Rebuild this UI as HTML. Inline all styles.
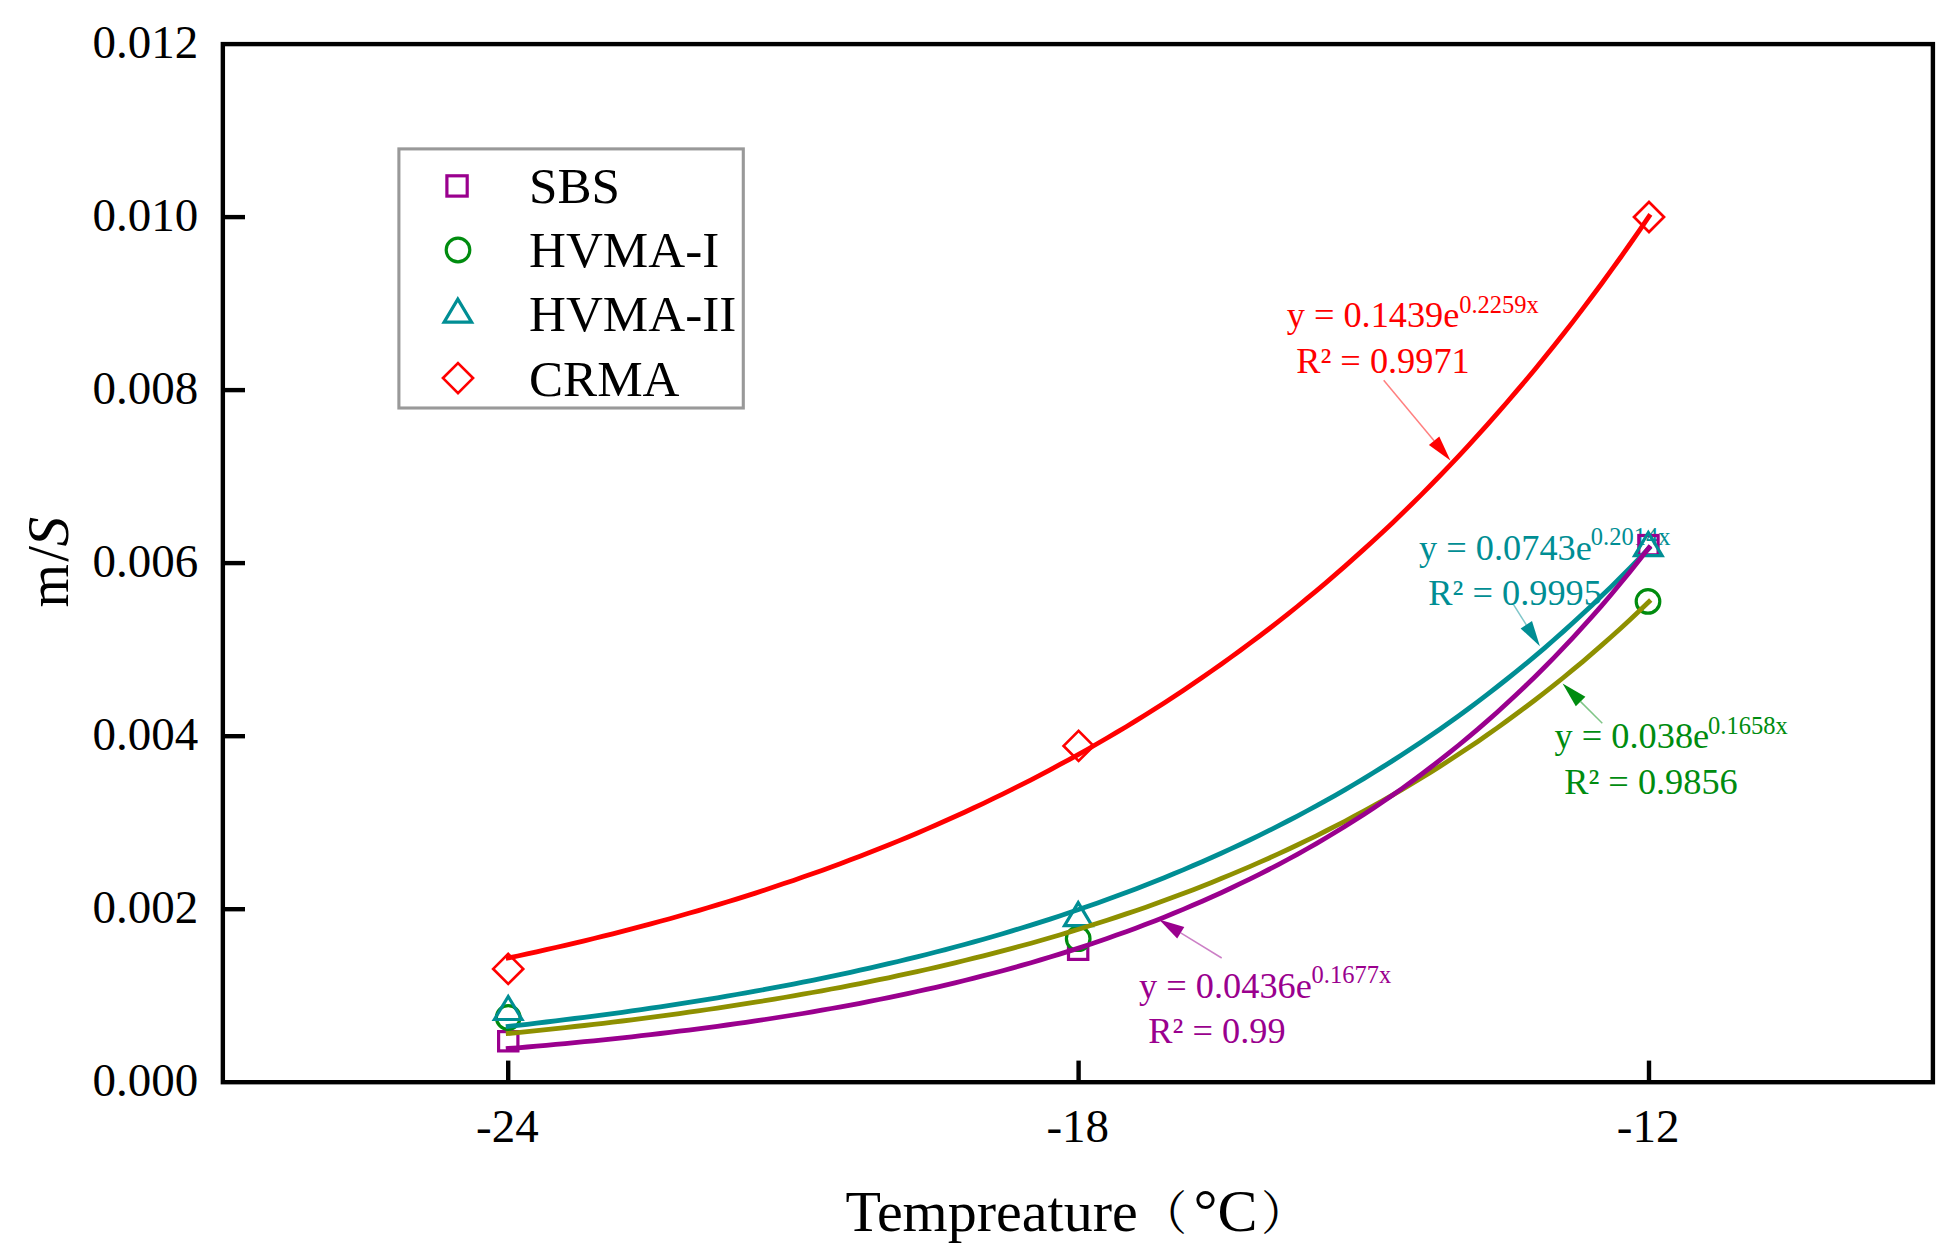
<!DOCTYPE html>
<html lang="en"><head><meta charset="utf-8"><title>m/S vs Temperature</title>
<style>html,body{margin:0;padding:0;background:#fff}body{width:1959px;height:1258px;overflow:hidden}svg{display:block}text{font-family:"Liberation Serif", "Noto Serif CJK SC", serif}</style>
</head><body>
<svg width="1959" height="1258" viewBox="0 0 1959 1258">
<rect x="0" y="0" width="1959" height="1258" fill="#fff"/>
<g fill="#FF0000">
<text x="1286.7" y="326.9" font-size="36.3">y = 0.1439e</text>
<text x="1459.2" y="312.6" font-size="24.5">0.2259x</text>
<text x="1296.2" y="372.7" font-size="36.3">R² = 0.9971</text>
<line x1="1383.7" y1="380.2" x2="1434.1" y2="440.8" stroke="#FF0000" stroke-width="1.5" stroke-opacity="0.5"/>
<polygon points="1450.4,460.4 1428.9,445.1 1439.3,436.5"/>
</g>
<g fill="#008E94">
<text x="1419.1" y="559.6" font-size="36.3">y = 0.0743e</text>
<text x="1590.8" y="545.0" font-size="24.5">0.2014x</text>
<text x="1428.3" y="605.4" font-size="36.3">R² = 0.9995</text>
<line x1="1513.7" y1="604.9" x2="1526.3" y2="624.8" stroke="#008E94" stroke-width="1.5" stroke-opacity="0.5"/>
<polygon points="1539.9,646.3 1520.6,628.4 1532.0,621.1"/>
</g>
<g fill="#008C0F">
<text x="1554.6" y="747.9" font-size="36.3">y = 0.038e</text>
<text x="1708.0" y="733.6" font-size="24.5">0.1658x</text>
<text x="1564.2" y="793.5" font-size="36.3">R² = 0.9856</text>
<line x1="1602.3" y1="723.3" x2="1580.6" y2="701.6" stroke="#008C0F" stroke-width="1.5" stroke-opacity="0.5"/>
<polygon points="1562.6,683.5 1585.4,696.8 1575.8,706.3"/>
</g>
<g fill="#9A008E">
<text x="1139.1" y="997.8" font-size="36.3">y = 0.0436e</text>
<text x="1311.6" y="982.7" font-size="24.5">0.1677x</text>
<text x="1148.3" y="1043.4" font-size="36.3">R² = 0.99</text>
<line x1="1221.7" y1="958.0" x2="1180.7" y2="932.8" stroke="#9A008E" stroke-width="1.5" stroke-opacity="0.5"/>
<polygon points="1159.0,919.4 1184.3,927.0 1177.2,938.5"/>
</g>
<rect x="498.6" y="1031.6" width="19.3" height="19.3" fill="none" stroke="#9A008E" stroke-width="3.2"/>
<rect x="1068.5" y="940.1" width="19.3" height="19.3" fill="none" stroke="#9A008E" stroke-width="3.2"/>
<rect x="1638.8" y="535.5" width="19.3" height="19.3" fill="none" stroke="#9A008E" stroke-width="3.2"/>
<circle cx="508.2" cy="1017.5" r="11.8" fill="#fff" stroke="#008C0F" stroke-width="3.2"/>
<circle cx="1078.2" cy="938.7" r="11.8" fill="#fff" stroke="#008C0F" stroke-width="3.2"/>
<circle cx="1648.0" cy="601.4" r="11.8" fill="#fff" stroke="#008C0F" stroke-width="3.2"/>
<polygon points="508.2,996.5 522.0,1019.5 494.4,1019.5" fill="none" stroke="#008E94" stroke-width="3.2" stroke-linejoin="miter"/>
<polygon points="1078.2,902.6 1092.0,925.6 1064.5,925.6" fill="none" stroke="#008E94" stroke-width="3.2" stroke-linejoin="miter"/>
<polygon points="1648.3,532.6 1662.1,555.6 1634.6,555.6" fill="none" stroke="#008E94" stroke-width="3.2" stroke-linejoin="miter"/>
<polygon points="508.2,953.9 523.2,968.9 508.2,983.9 493.2,968.9" fill="none" stroke="#FF0000" stroke-width="2.7"/>
<polygon points="1078.6,730.9 1093.6,745.9 1078.6,760.9 1063.6,745.9" fill="none" stroke="#FF0000" stroke-width="2.7"/>
<polygon points="1649.0,202.0 1664.0,217.0 1649.0,232.0 1634.0,217.0" fill="none" stroke="#FF0000" stroke-width="2.7"/>
<polyline points="508.2,1026.4 517.7,1025.3 527.2,1024.3 536.7,1023.2 546.2,1022.0 555.7,1020.9 565.2,1019.7 574.7,1018.5 584.3,1017.3 593.8,1016.1 603.3,1014.8 612.8,1013.6 622.3,1012.3 631.8,1010.9 641.3,1009.6 650.8,1008.2 660.3,1006.8 669.8,1005.4 679.3,1003.9 688.8,1002.4 698.3,1000.9 707.8,999.3 717.4,997.8 726.9,996.2 736.4,994.5 745.9,992.9 755.4,991.2 764.9,989.4 774.4,987.7 783.9,985.9 793.4,984.1 802.9,982.2 812.4,980.3 821.9,978.4 831.4,976.4 840.9,974.4 850.5,972.3 860.0,970.2 869.5,968.1 879.0,965.9 888.5,963.7 898.0,961.5 907.5,959.2 917.0,956.8 926.5,954.5 936.0,952.0 945.5,949.6 955.0,947.0 964.5,944.5 974.0,941.9 983.5,939.2 993.1,936.5 1002.6,933.7 1012.1,930.9 1021.6,928.0 1031.1,925.1 1040.6,922.1 1050.1,919.1 1059.6,916.0 1069.1,912.8 1078.6,909.6 1088.1,906.3 1097.6,903.0 1107.1,899.6 1116.6,896.1 1126.2,892.5 1135.7,888.9 1145.2,885.3 1154.7,881.5 1164.2,877.7 1173.7,873.8 1183.2,869.9 1192.7,865.8 1202.2,861.7 1211.7,857.5 1221.2,853.3 1230.7,848.9 1240.2,844.5 1249.7,840.0 1259.3,835.4 1268.8,830.7 1278.3,825.9 1287.8,821.0 1297.3,816.1 1306.8,811.0 1316.3,805.9 1325.8,800.6 1335.3,795.3 1344.8,789.8 1354.3,784.2 1363.8,778.6 1373.3,772.8 1382.8,766.9 1392.4,760.9 1401.9,754.8 1411.4,748.6 1420.9,742.3 1430.4,735.8 1439.9,729.2 1449.4,722.5 1458.9,715.7 1468.4,708.7 1477.9,701.6 1487.4,694.4 1496.9,687.0 1506.4,679.5 1515.9,671.9 1525.4,664.1 1535.0,656.1 1544.5,648.1 1554.0,639.8 1563.5,631.4 1573.0,622.8 1582.5,614.1 1592.0,605.2 1601.5,596.1 1611.0,586.9 1620.5,577.5 1630.0,567.9 1639.5,558.1 1649.0,548.2" fill="none" stroke="#008E94" stroke-width="4.8" stroke-linecap="square" stroke-linejoin="round"/>
<polyline points="508.2,1033.5 517.7,1032.6 527.2,1031.6 536.7,1030.6 546.2,1029.6 555.7,1028.6 565.2,1027.6 574.7,1026.5 584.3,1025.5 593.8,1024.4 603.3,1023.3 612.8,1022.1 622.3,1021.0 631.8,1019.8 641.3,1018.6 650.8,1017.4 660.3,1016.1 669.8,1014.8 679.3,1013.6 688.8,1012.2 698.3,1010.9 707.8,1009.5 717.4,1008.1 726.9,1006.7 736.4,1005.2 745.9,1003.7 755.4,1002.2 764.9,1000.7 774.4,999.1 783.9,997.5 793.4,995.9 802.9,994.2 812.4,992.5 821.9,990.8 831.4,989.0 840.9,987.3 850.5,985.4 860.0,983.6 869.5,981.7 879.0,979.7 888.5,977.8 898.0,975.7 907.5,973.7 917.0,971.6 926.5,969.5 936.0,967.3 945.5,965.1 955.0,962.8 964.5,960.5 974.0,958.2 983.5,955.8 993.1,953.4 1002.6,950.9 1012.1,948.4 1021.6,945.8 1031.1,943.2 1040.6,940.5 1050.1,937.7 1059.6,935.0 1069.1,932.1 1078.6,929.2 1088.1,926.3 1097.6,923.3 1107.1,920.2 1116.6,917.1 1126.2,913.9 1135.7,910.7 1145.2,907.4 1154.7,904.0 1164.2,900.6 1173.7,897.1 1183.2,893.5 1192.7,889.9 1202.2,886.2 1211.7,882.4 1221.2,878.6 1230.7,874.6 1240.2,870.6 1249.7,866.6 1259.3,862.4 1268.8,858.2 1278.3,853.9 1287.8,849.5 1297.3,845.0 1306.8,840.4 1316.3,835.8 1325.8,831.0 1335.3,826.2 1344.8,821.3 1354.3,816.2 1363.8,811.1 1373.3,805.9 1382.8,800.6 1392.4,795.1 1401.9,789.6 1411.4,784.0 1420.9,778.2 1430.4,772.4 1439.9,766.4 1449.4,760.3 1458.9,754.1 1468.4,747.8 1477.9,741.4 1487.4,734.8 1496.9,728.1 1506.4,721.3 1515.9,714.3 1525.4,707.3 1535.0,700.0 1544.5,692.7 1554.0,685.2 1563.5,677.5 1573.0,669.7 1582.5,661.8 1592.0,653.7 1601.5,645.4 1611.0,637.0 1620.5,628.5 1630.0,619.7 1639.5,610.8 1649.0,601.7" fill="none" stroke="#8E9000" stroke-width="4.8" stroke-linecap="square" stroke-linejoin="round"/>
<polyline points="508.2,1048.5 517.7,1047.8 527.2,1047.0 536.7,1046.1 546.2,1045.3 555.7,1044.4 565.2,1043.6 574.7,1042.7 584.3,1041.7 593.8,1040.8 603.3,1039.8 612.8,1038.8 622.3,1037.8 631.8,1036.8 641.3,1035.7 650.8,1034.7 660.3,1033.5 669.8,1032.4 679.3,1031.2 688.8,1030.1 698.3,1028.8 707.8,1027.6 717.4,1026.3 726.9,1025.0 736.4,1023.7 745.9,1022.3 755.4,1020.9 764.9,1019.5 774.4,1018.0 783.9,1016.5 793.4,1015.0 802.9,1013.5 812.4,1011.8 821.9,1010.2 831.4,1008.5 840.9,1006.8 850.5,1005.1 860.0,1003.3 869.5,1001.4 879.0,999.5 888.5,997.6 898.0,995.6 907.5,993.6 917.0,991.5 926.5,989.4 936.0,987.3 945.5,985.1 955.0,982.8 964.5,980.5 974.0,978.1 983.5,975.7 993.1,973.2 1002.6,970.7 1012.1,968.1 1021.6,965.4 1031.1,962.7 1040.6,959.9 1050.1,957.0 1059.6,954.1 1069.1,951.1 1078.6,948.1 1088.1,944.9 1097.6,941.7 1107.1,938.5 1116.6,935.1 1126.2,931.7 1135.7,928.2 1145.2,924.6 1154.7,920.9 1164.2,917.2 1173.7,913.3 1183.2,909.4 1192.7,905.3 1202.2,901.2 1211.7,897.0 1221.2,892.7 1230.7,888.3 1240.2,883.7 1249.7,879.1 1259.3,874.4 1268.8,869.5 1278.3,864.6 1287.8,859.5 1297.3,854.3 1306.8,849.0 1316.3,843.6 1325.8,838.0 1335.3,832.3 1344.8,826.5 1354.3,820.5 1363.8,814.4 1373.3,808.2 1382.8,801.8 1392.4,795.2 1401.9,788.6 1411.4,781.7 1420.9,774.7 1430.4,767.5 1439.9,760.2 1449.4,752.7 1458.9,745.0 1468.4,737.2 1477.9,729.1 1487.4,720.9 1496.9,712.5 1506.4,703.8 1515.9,695.0 1525.4,686.0 1535.0,676.7 1544.5,667.3 1554.0,657.6 1563.5,647.7 1573.0,637.6 1582.5,627.2 1592.0,616.6 1601.5,605.8 1611.0,594.7 1620.5,583.3 1630.0,571.7 1639.5,559.8 1649.0,547.6" fill="none" stroke="#9A008E" stroke-width="4.8" stroke-linecap="square" stroke-linejoin="round"/>
<polyline points="508.2,958.0 517.7,956.0 527.2,953.9 536.7,951.8 546.2,949.7 555.7,947.5 565.2,945.4 574.7,943.1 584.3,940.8 593.8,938.5 603.3,936.2 612.8,933.8 622.3,931.4 631.8,928.9 641.3,926.4 650.8,923.9 660.3,921.3 669.8,918.7 679.3,916.0 688.8,913.3 698.3,910.6 707.8,907.8 717.4,904.9 726.9,902.0 736.4,899.1 745.9,896.1 755.4,893.1 764.9,890.0 774.4,886.8 783.9,883.6 793.4,880.4 802.9,877.1 812.4,873.8 821.9,870.4 831.4,866.9 840.9,863.4 850.5,859.8 860.0,856.2 869.5,852.5 879.0,848.8 888.5,845.0 898.0,841.1 907.5,837.2 917.0,833.2 926.5,829.1 936.0,825.0 945.5,820.8 955.0,816.5 964.5,812.2 974.0,807.8 983.5,803.3 993.1,798.7 1002.6,794.1 1012.1,789.4 1021.6,784.6 1031.1,779.8 1040.6,774.9 1050.1,769.8 1059.6,764.7 1069.1,759.6 1078.6,754.3 1088.1,749.0 1097.6,743.5 1107.1,738.0 1116.6,732.4 1126.2,726.7 1135.7,720.9 1145.2,715.0 1154.7,709.0 1164.2,702.9 1173.7,696.7 1183.2,690.4 1192.7,684.0 1202.2,677.5 1211.7,670.9 1221.2,664.2 1230.7,657.4 1240.2,650.5 1249.7,643.4 1259.3,636.3 1268.8,629.0 1278.3,621.6 1287.8,614.1 1297.3,606.5 1306.8,598.7 1316.3,590.8 1325.8,582.8 1335.3,574.6 1344.8,566.4 1354.3,557.9 1363.8,549.4 1373.3,540.7 1382.8,531.9 1392.4,522.9 1401.9,513.8 1411.4,504.5 1420.9,495.1 1430.4,485.5 1439.9,475.8 1449.4,465.9 1458.9,455.8 1468.4,445.6 1477.9,435.2 1487.4,424.6 1496.9,413.9 1506.4,403.0 1515.9,391.9 1525.4,380.7 1535.0,369.2 1544.5,357.6 1554.0,345.8 1563.5,333.8 1573.0,321.6 1582.5,309.1 1592.0,296.5 1601.5,283.7 1611.0,270.7 1620.5,257.5 1630.0,244.0 1639.5,230.3 1649.0,216.4" fill="none" stroke="#FF0000" stroke-width="4.8" stroke-linecap="square" stroke-linejoin="round"/>
<g stroke="#000" stroke-width="4.4" fill="none" stroke-linecap="butt">
<rect x="222.85" y="44.10" width="1710.05" height="1038.10"/>
<line x1="222.8" y1="909.2" x2="245.0" y2="909.2"/>
<line x1="222.8" y1="736.2" x2="245.0" y2="736.2"/>
<line x1="222.8" y1="563.1" x2="245.0" y2="563.1"/>
<line x1="222.8" y1="390.1" x2="245.0" y2="390.1"/>
<line x1="222.8" y1="217.1" x2="245.0" y2="217.1"/>
<line x1="508.2" y1="1082.2" x2="508.2" y2="1060.6"/>
<line x1="1078.6" y1="1082.2" x2="1078.6" y2="1060.6"/>
<line x1="1649.0" y1="1082.2" x2="1649.0" y2="1060.6"/>
</g>
<g font-size="47" fill="#000">
<text x="198.2" y="1096.2" text-anchor="end">0.000</text>
<text x="198.2" y="923.2" text-anchor="end">0.002</text>
<text x="198.2" y="750.2" text-anchor="end">0.004</text>
<text x="198.2" y="577.1" text-anchor="end">0.006</text>
<text x="198.2" y="404.1" text-anchor="end">0.008</text>
<text x="198.2" y="231.1" text-anchor="end">0.010</text>
<text x="198.2" y="58.1" text-anchor="end">0.012</text>
<text x="507.4" y="1142.0" text-anchor="middle">-24</text>
<text x="1077.8" y="1142.0" text-anchor="middle">-18</text>
<text x="1648.2" y="1142.0" text-anchor="middle">-12</text>
</g>
<text x="845.5" y="1230.8" font-size="58" fill="#000">Tempreature</text>
<text x="1140.1" y="1230.0" font-size="47" fill="#000" font-family='"Noto Serif CJK SC", "Liberation Serif", serif'>（</text>
<text x="1193.4" y="1230.8" font-size="60" fill="#000">°C</text>
<text x="1260.9" y="1230.0" font-size="47" fill="#000" font-family='"Noto Serif CJK SC", "Liberation Serif", serif'>）</text>
<g transform="translate(68.1,607.4) rotate(-90)" font-size="59.5" fill="#000"><text x="0" y="0" transform="scale(0.938,1)">m</text><text x="45.6" y="0" transform="translate(45.6,0) scale(0.95,1) translate(-45.6,0)">/</text><text x="61.0" y="0" font-style="italic">S</text></g>
<rect x="398.9" y="148.9" width="344.4" height="259.1" fill="#fff" stroke="#999" stroke-width="3.1"/>
<rect x="446.9" y="175.8" width="20.3" height="20.3" fill="none" stroke="#9A008E" stroke-width="3.2"/>
<circle cx="458.0" cy="250.0" r="11.8" fill="#fff" stroke="#008C0F" stroke-width="3.2"/>
<polygon points="457.8,299.1 471.6,322.1 444.1,322.1" fill="none" stroke="#008E94" stroke-width="3.2" stroke-linejoin="miter"/>
<polygon points="458.0,363.1 473.0,378.1 458.0,393.1 443.0,378.1" fill="none" stroke="#FF0000" stroke-width="2.7"/>
<g font-size="51.1" fill="#000">
<text x="529.0" y="203.2">SBS</text>
<text x="529.0" y="266.8">HVMA-I</text>
<text x="529.0" y="330.8">HVMA-II</text>
<text x="529.0" y="395.6">CRMA</text>
</g>
</svg></body></html>
